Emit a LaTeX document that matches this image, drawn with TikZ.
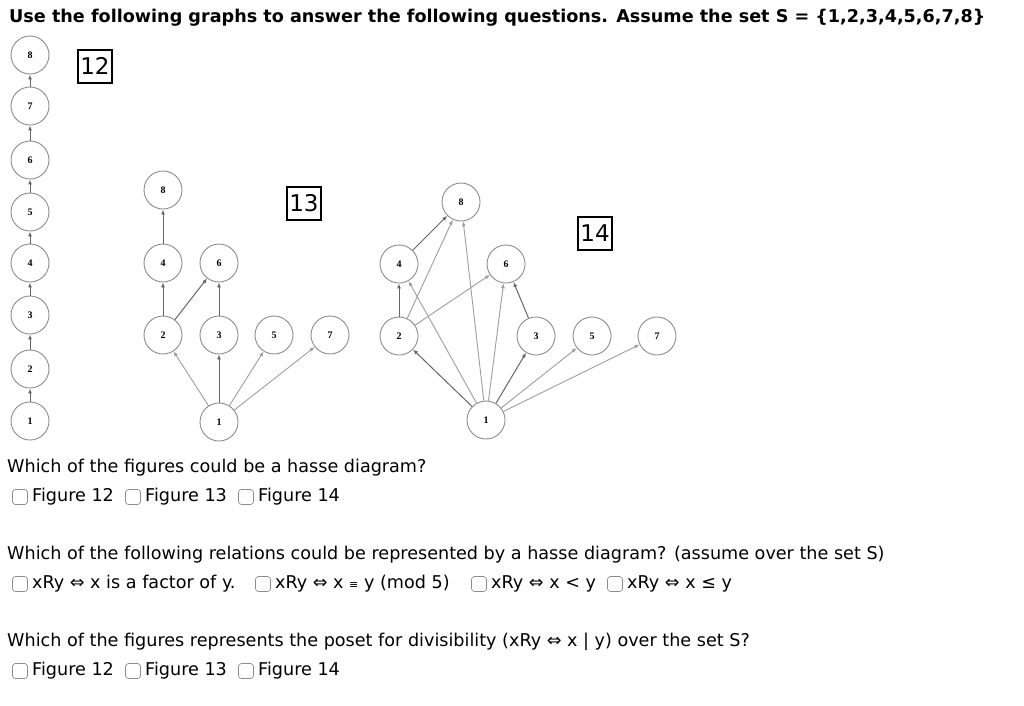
\documentclass[tikz,border=0pt]{standalone}
\usepackage{fontspec}
\usetikzlibrary{arrows.meta}
\setmainfont{DejaVu Sans}
\newfontfamily\serifnum{Liberation Serif}
\begin{document}
\begin{tikzpicture}[x=1pt,y=-1pt,
  v/.style={circle,draw=black!45,line width=0.9pt,minimum size=38pt,inner sep=0pt,font=\serifnum\fontsize{10}{10}\selectfont\bfseries},
  e/.style={-{Latex[length=5pt,width=4pt]},black!60,line width=1pt},
  el/.style={-{Latex[length=5pt,width=4pt]},black!38,line width=0.9pt},
  lab/.style={draw,line width=2pt,inner sep=1pt,minimum width=34pt,minimum height=33pt,font=\fontsize{23}{23}\selectfont},
  q/.style={anchor=west,inner sep=0pt,font=\fontsize{17.6}{20}\selectfont},
  cb/.style={draw=black!45,rounded corners=3pt,minimum size=15pt,inner sep=0pt,line width=0.7pt}]
\useasboundingbox[fill=white] (0,0) rectangle (1024,705);
\node[anchor=west,inner sep=0pt,font=\bfseries\fontsize{17.6}{20}\selectfont] (title) at (9,18) {Use the following graphs to answer the following questions. Assume the set S = \{1,2,3,4,5,6,7,8\}};
% Figure 12
\foreach \n/\y in {8/55,7/106,6/160,5/212,4/263,3/315,2/369,1/421}{\node[v] (a\n) at (30,\y) {\n};}
\foreach \a/\b in {1/2,2/3,3/4,4/5,5/6,6/7,7/8}{\draw[e] (a\a) -- (a\b);}
\node[lab] (l12) at (95,66) {12};
% Figure 13
\node[v] (b8) at (163,190) {8};
\node[v] (b4) at (163,263) {4};
\node[v] (b6) at (219,263) {6};
\node[v] (b2) at (163,335) {2};
\node[v] (b3) at (219,335) {3};
\node[v] (b5) at (274,335) {5};
\node[v] (b7) at (330,335) {7};
\node[v] (b1) at (219,422) {1};
\draw[e] (b4)--(b8); \draw[e] (b2)--(b4); \draw[e] (b2)--(b6); \draw[e] (b3)--(b6);
\draw[el] (b1)--(b2); \draw[e] (b1)--(b3); \draw[el] (b1)--(b5); \draw[el] (b1)--(b7);
\node[lab] (l13) at (304,203) {13};
% Figure 14
\node[v] (c8) at (461,202) {8};
\node[v] (c4) at (399,264) {4};
\node[v] (c6) at (506,264) {6};
\node[v] (c2) at (399,336) {2};
\node[v] (c3) at (536,336) {3};
\node[v] (c5) at (592,336) {5};
\node[v] (c7) at (657,336) {7};
\node[v] (c1) at (486,420) {1};
\draw[e] (c4)--(c8); \draw[e] (c2)--(c4); \draw[el] (c2)--(c8); \draw[el] (c2)--(c6); \draw[e] (c3)--(c6);
\draw[e] (c1)--(c2); \draw[el] (c1)--(c4); \draw[el] (c1)--(c8); \draw[el] (c1)--(c6);
\draw[e] (c1)--(c3); \draw[el] (c1)--(c5); \draw[el] (c1)--(c7);
\node[lab] (l14) at (595,233) {14};
% Questions
\node[q] (q1) at (7,468) {Which of the figures could be a hasse diagram?};
\node[cb] (k11) at (20,497) {}; \node[q] (t11) at (32,497) {Figure 12};
\node[cb] (k12) at (133,497) {}; \node[q] (t12) at (145,497) {Figure 13};
\node[cb] (k13) at (246,497) {}; \node[q] (t13) at (258,497) {Figure 14};
\node[q] (q2) at (7,555) {Which of the following relations could be represented by a hasse diagram? (assume over the set S)};
\node[cb] (k21) at (20,584) {}; \node[q] (t21) at (32,584) {xRy ⇔ x is a factor of y.};
\node[cb] (k22) at (263,584) {}; \node[q] (t22) at (275,584) {xRy ⇔ x {\fontsize{11}{11}\selectfont ≡} y (mod 5)};
\node[cb] (k23) at (479,584) {}; \node[q] (t23) at (491,584) {xRy ⇔ x < y};
\node[cb] (k24) at (615,584) {}; \node[q] (t24) at (627,584) {xRy ⇔ x ≤ y};
\node[q] (q3) at (7,642) {Which of the figures represents the poset for divisibility (xRy ⇔ x | y) over the set S?};
\node[cb] (k31) at (20,671) {}; \node[q] (t31) at (32,671) {Figure 12};
\node[cb] (k32) at (133,671) {}; \node[q] (t32) at (145,671) {Figure 13};
\node[cb] (k33) at (246,671) {}; \node[q] (t33) at (258,671) {Figure 14};
\end{tikzpicture}
\end{document}
